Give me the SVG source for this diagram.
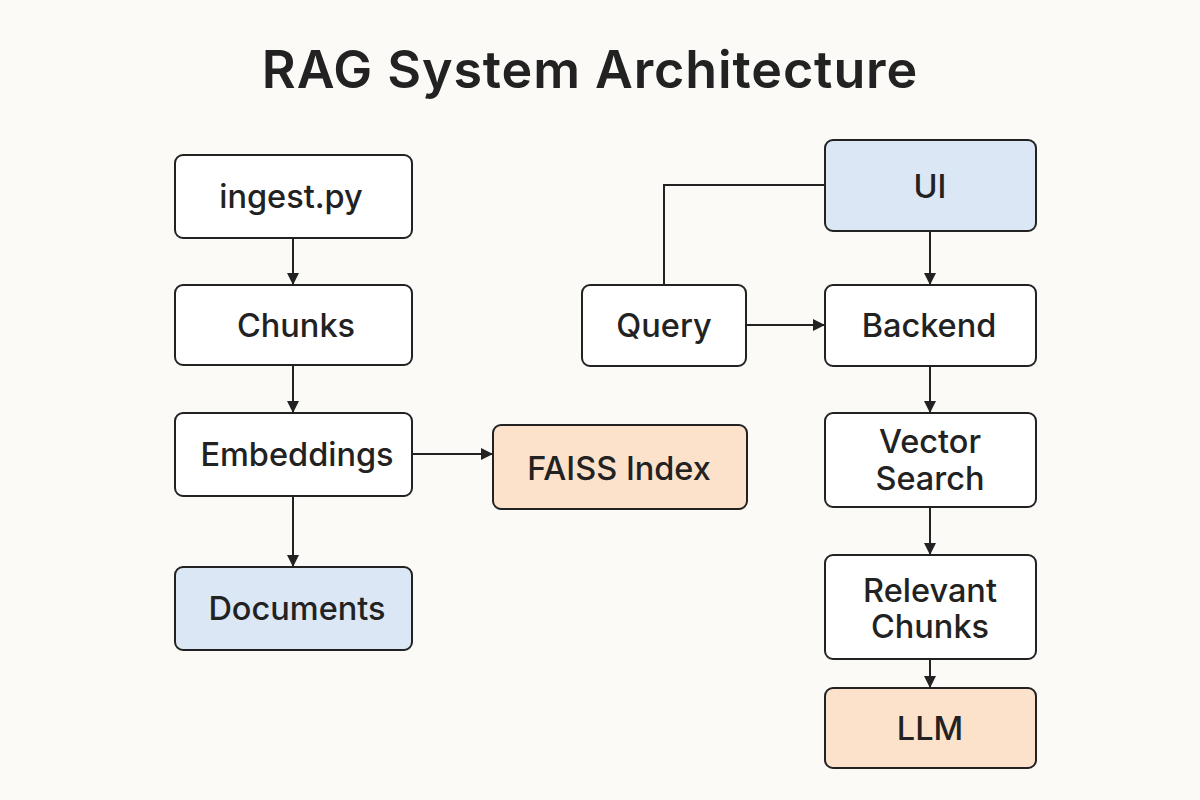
<svg xmlns="http://www.w3.org/2000/svg" width="1200" height="800" viewBox="0 0 1200 800">
<defs>
<marker id="arr" viewBox="0 0 12 12" refX="12" refY="6" markerWidth="12" markerHeight="12" markerUnits="userSpaceOnUse" orient="auto">
<path d="M0,0 L12,6 L0,12 Z" fill="#222"/>
</marker>
<style>
.box{fill:#fff;stroke:#222;stroke-width:2}
.blue{fill:#dce7f5}
.peach{fill:#fde2cb}
.lbl{font-family:Inter,"Open Sans","Liberation Sans",sans-serif;font-size:32.5px;font-weight:500;fill:#222;text-anchor:middle}
.title{font-family:Inter,"Open Sans","Liberation Sans",sans-serif;font-size:52px;font-weight:600;letter-spacing:0.9px;fill:#222;text-anchor:middle}
.conn{fill:none;stroke:#222;stroke-width:2}
</style>
</defs>
<rect width="1200" height="800" fill="#fbfaf7"/>
<text class="title" x="590" y="88">RAG System Architecture</text>
<g id="connectors">
<path class="conn" d="M293,238 V285" marker-end="url(#arr)"/>
<path class="conn" d="M293,365 V413" marker-end="url(#arr)"/>
<path class="conn" d="M293,496 V567" marker-end="url(#arr)"/>
<path class="conn" d="M412,454 H493" marker-end="url(#arr)"/>
<path class="conn" d="M825,185 H664 V285"/>
<path class="conn" d="M746,325 H825" marker-end="url(#arr)"/>
<path class="conn" d="M930,231 V285" marker-end="url(#arr)"/>
<path class="conn" d="M930,366 V413" marker-end="url(#arr)"/>
<path class="conn" d="M930,507 V555" marker-end="url(#arr)"/>
<path class="conn" d="M930,659 V688" marker-end="url(#arr)"/>
</g>
<g id="ingest"><rect class="box" x="175" y="155" width="237" height="83" rx="8"/><text class="lbl" x="291" y="208">ingest.py</text></g>
<g id="chunks"><rect class="box" x="175" y="285" width="237" height="80" rx="8"/><text class="lbl" x="296" y="337">Chunks</text></g>
<g id="embeddings"><rect class="box" x="175" y="413" width="237" height="83" rx="8"/><text class="lbl" x="297" y="466">Embeddings</text></g>
<g id="documents"><rect class="box blue" x="175" y="567" width="237" height="83" rx="8"/><text class="lbl" x="297" y="620">Documents</text></g>
<g id="faiss"><rect class="box peach" x="493" y="425" width="254" height="84" rx="8"/><text class="lbl" x="619" y="480">FAISS Index</text></g>
<g id="ui"><rect class="box blue" x="825" y="140" width="211" height="91" rx="8"/><text class="lbl" x="930" y="198">UI</text></g>
<g id="query"><rect class="box" x="582" y="285" width="164" height="81" rx="8"/><text class="lbl" x="664" y="337">Query</text></g>
<g id="backend"><rect class="box" x="825" y="285" width="211" height="81" rx="8"/><text class="lbl" x="929" y="337">Backend</text></g>
<g id="vector"><rect class="box" x="825" y="413" width="211" height="94" rx="8"/><text class="lbl" x="930" y="453">Vector</text><text class="lbl" x="930" y="490">Search</text></g>
<g id="relevant"><rect class="box" x="825" y="555" width="211" height="104" rx="8"/><text class="lbl" x="930" y="602">Relevant</text><text class="lbl" x="930" y="638">Chunks</text></g>
<g id="llm"><rect class="box peach" x="825" y="688" width="211" height="80" rx="8"/><text class="lbl" x="930" y="740">LLM</text></g>
</svg>
